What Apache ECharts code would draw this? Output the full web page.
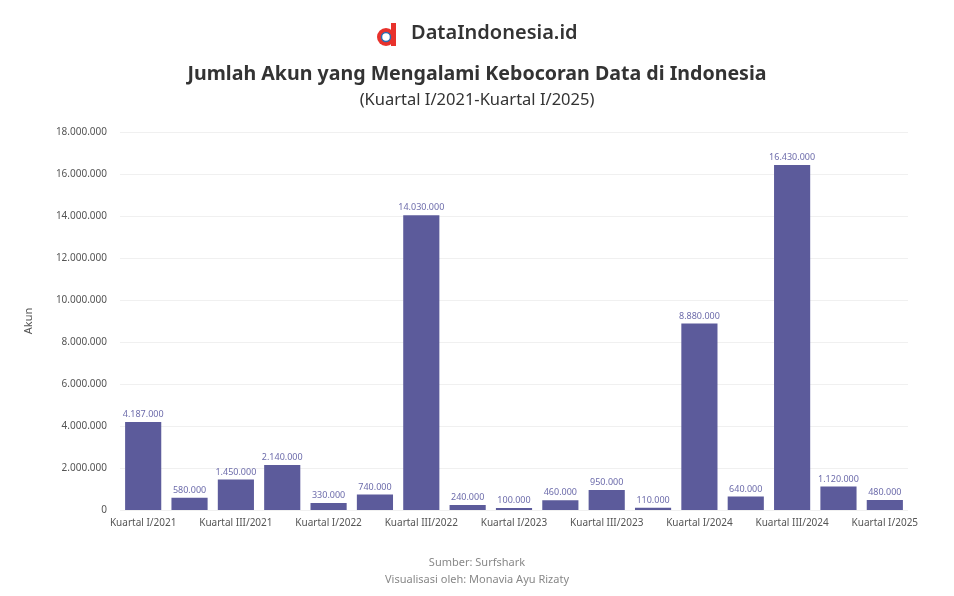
<!DOCTYPE html>
<html><head><meta charset="utf-8">
<script src="https://cdn.jsdelivr.net/npm/echarts@6/dist/echarts.min.js"></script>
<style>html,body{margin:0;padding:0;background:#fff}#c{width:954px;height:596px}</style>
</head><body><div id="c"></div>
<script>
const categories = ["Kuartal I/2021","Kuartal II/2021","Kuartal III/2021","Kuartal IV/2021","Kuartal I/2022","Kuartal II/2022","Kuartal III/2022","Kuartal IV/2022","Kuartal I/2023","Kuartal II/2023","Kuartal III/2023","Kuartal IV/2023","Kuartal I/2024","Kuartal II/2024","Kuartal III/2024","Kuartal IV/2024","Kuartal I/2025"];
const accounts = [4187000, 580000, 1450000, 2140000, 330000, 740000, 14030000, 240000, 100000, 460000, 950000, 110000, 8880000, 640000, 16430000, 1120000, 480000];
const yTicks = [0, 2000000, 4000000, 6000000, 8000000, 10000000, 12000000, 14000000, 16000000, 18000000];
const titleText = "Jumlah Akun yang Mengalami Kebocoran Data di Indonesia";
const subtitleText = "(Kuartal I/2021-Kuartal I/2025)";
const brandText = "DataIndonesia.id";
const sourceText = "Sumber: Surfshark";
const creditText = "Visualisasi oleh: Monavia Ayu Rizaty";
const yName = "Akun";

const fmt = v => String(Math.round(v)).replace(/\B(?=(\d{3})+(?!\d))/g, ".");
const chart = echarts.init(document.getElementById('c'));
chart.setOption({
  backgroundColor: '#fff',
  textStyle: {fontFamily: 'Noto Sans'},
  title: [
    {text: titleText, left: 'center', top: 59, textStyle: {fontSize: 19.6, fontWeight: 'bold', color: '#333', fontFamily: 'Noto Sans'}},
    {text: subtitleText, left: 'center', top: 87, textStyle: {fontSize: 16.5, fontWeight: 'normal', color: '#333', fontFamily: 'Noto Sans'}},
    {text: sourceText, left: 'center', top: 552, textStyle: {fontSize: 11, fontWeight: 'normal', color: '#888'}},
    {text: creditText, left: 'center', top: 569, textStyle: {fontSize: 11, fontWeight: 'normal', color: '#888'}}
  ],
  graphic: [
    {type: 'circle', shape: {cx: 386, cy: 37, r: 9}, style: {fill: '#e8322c'}},
    {type: 'rect', shape: {x: 391, y: 23, width: 5, height: 23}, style: {fill: '#e8322c'}},
    {type: 'circle', shape: {cx: 386, cy: 37, r: 4.5}, style: {fill: '#fff', stroke: '#2b6cb0', lineWidth: 1.5}},
    {type: 'text', left: 411, top: 23, style: {text: brandText, fontSize: 20, fontWeight: 600, fill: '#333', fontFamily: 'Noto Sans'}}
  ],
  grid: {left: 120, right: 46, top: 132, bottom: 86, containLabel: false},
  xAxis: {
    type: 'category', data: categories,
    axisLine: {show: false}, axisTick: {show: false},
    axisLabel: {interval: 1, fontSize: 10, color: '#555', margin: 8}
  },
  yAxis: {
    type: 'value', min: 0, max: 18000000, interval: 2000000,
    name: yName, nameLocation: 'middle', nameGap: 86, nameRotate: 90,
    nameTextStyle: {fontSize: 11, color: '#555'},
    axisLine: {show: false}, axisTick: {show: false},
    axisLabel: {fontSize: 10, color: '#555', formatter: v => fmt(v), margin: 13},
    splitLine: {lineStyle: {color: '#f0f0f0', width: 1}}
  },
  series: [{
    type: 'bar', data: accounts, barCategoryGap: '22%',
    itemStyle: {color: '#5c5b9b'},
    label: {show: true, position: 'top', fontSize: 9, color: '#6d6cab', formatter: p => fmt(p.value), distance: 3}
  }]
});
</script></body></html>
